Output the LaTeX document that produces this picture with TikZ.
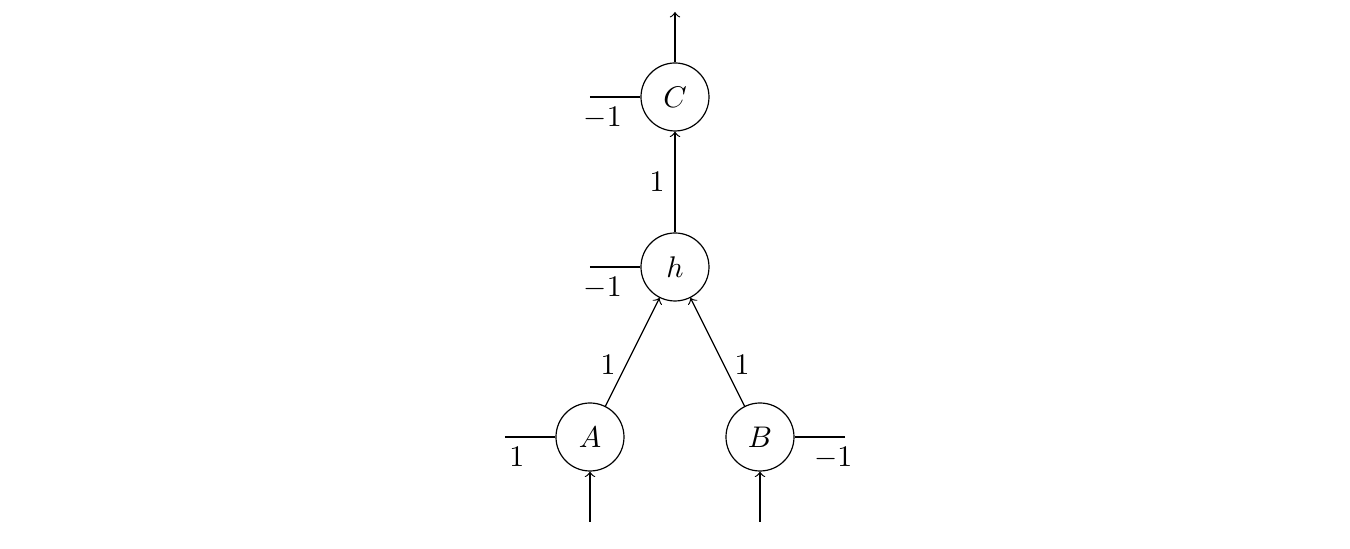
\documentclass[tikz,border=0pt]{standalone}
\begin{document}
\begin{tikzpicture}
\useasboundingbox (-6.941,-1.306) rectangle (8.941,5.141);
\tikzset{
  neuron/.style={draw, circle, minimum size=0.8cm, inner sep=0pt},
  conn/.style={->},
  bias/.style={-}
}
\node[neuron] (A) at (0,0) {$A$};
\node[neuron] (B) at (2,0) {$B$};
\node[neuron] (h) at (1,2) {$h$};
\node[neuron] (C) at (1,4) {$C$};
\coordinate (inA) at (0,-1);
\coordinate (inB) at (2,-1);
\coordinate (out) at (1,5);
\coordinate (bA) at (-1,0);
\coordinate (bB) at (3,0);
\coordinate (bh) at (0,2);
\coordinate (bC) at (0,4);
\draw[conn] (inA) -- (A);
\draw[conn] (inB) -- (B);
\draw[conn] (A) -- node[pos=0.38,left] {$1$} (h);
\draw[conn] (B) -- node[pos=0.38,right] {$1$} (h);
\draw[conn] (h) -- node[midway,left] {$1$} (C);
\draw[conn] (C) -- (out);
\draw[bias] (bA) -- (A);
\draw[bias] (bB) -- (B);
\draw[bias] (bh) -- (h);
\draw[bias] (bC) -- (C);
\node[below] (lA) at (-0.86,0) {$1$};
\node[below] (lB) at (2.86,0) {$-1$};
\node[below] (lh) at (0.15,2) {$-1$};
\node[below] (lC) at (0.15,4) {$-1$};
\end{tikzpicture}
\end{document}
